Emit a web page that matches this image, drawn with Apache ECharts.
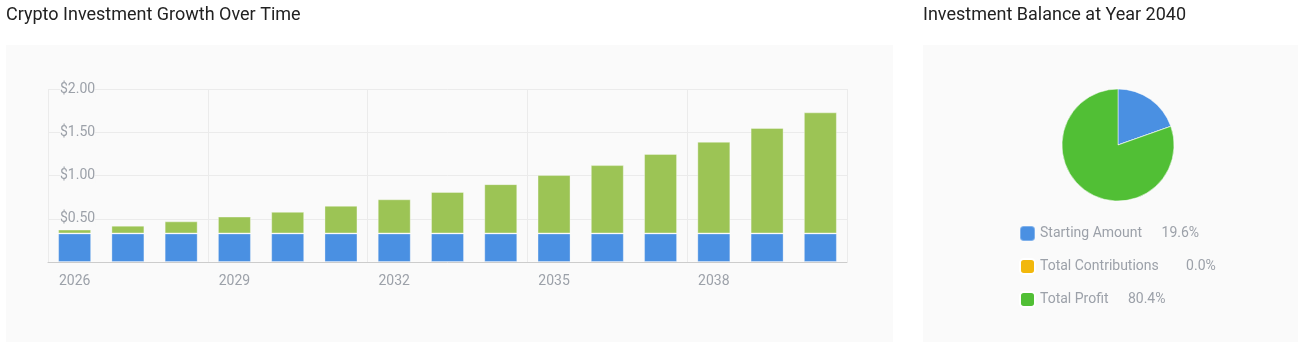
<!DOCTYPE html>
<html>
<head>
<meta charset="utf-8">
<script src="https://cdn.jsdelivr.net/npm/echarts@6/dist/echarts.min.js"></script>
<style>
html,body{margin:0;padding:0;background:#fff;}
#c{width:1298px;height:342px;}
</style>
</head>
<body>
<div id="c"></div>
<script>
var years = ['2026','2027','2028','2029','2030','2031','2032','2033','2034','2035','2036','2037','2038','2039','2040'];
var startingAmount = [0.33,0.33,0.33,0.33,0.33,0.33,0.33,0.33,0.33,0.33,0.33,0.33,0.33,0.33,0.33];
var totalProfit = [0.045,0.09,0.14,0.195,0.25,0.32,0.395,0.48,0.57,0.675,0.79,0.92,1.06,1.22,1.40];
var pieNames = ['Starting Amount','Total Contributions','Total Profit'];
var pieValues = [19.6, 0.0, 80.4];
var pieColors = ['#4a90e2','#f2b80c','#51bf35'];
var yTicks = {min:0, max:2, interval:0.5};

var chart = echarts.init(document.getElementById('c'));
var font = 'Roboto, "Noto Sans", sans-serif';
var gray = '#9ca1a9';
chart.setOption({
  animation:false,
  textStyle:{fontFamily:font},
  graphic:[
    {type:'rect', z:-10, shape:{x:6,y:45,width:887,height:300}, style:{fill:'#fafafa'}},
    {type:'rect', z:-10, shape:{x:923,y:45,width:380,height:300}, style:{fill:'#fafafa'}}
  ],
  title:[
    {text:'Crypto Investment Growth Over Time', left:6, top:6, padding:0,
     textStyle:{fontFamily:font, fontSize:18, fontWeight:'normal', color:'#222'}},
    {text:'Investment Balance at Year 2040', left:923, top:6, padding:0,
     textStyle:{fontFamily:font, fontSize:18, fontWeight:'normal', color:'#222'}}
  ],
  grid:{left:48, right:451, top:89, bottom:80, containLabel:false},
  xAxis:{
    type:'category', data:years,
    axisLine:{lineStyle:{color:'#cccccc'}},
    axisTick:{show:false},
    axisLabel:{interval:2, color:gray, fontSize:14, margin:12, fontFamily:font},
    splitLine:{show:true, interval:2, lineStyle:{color:'#ebebeb'}}
  },
  yAxis:{
    type:'value', min:yTicks.min, max:yTicks.max, interval:yTicks.interval,
    axisLine:{show:false}, axisTick:{show:false},
    axisLabel:{inside:true, margin:12, color:gray, fontSize:14, fontFamily:font,
      backgroundColor:'#fafafa', padding:[1,0],
      formatter:function(v){ return v===0 ? '' : '$' + v.toFixed(2); }},
    splitLine:{lineStyle:{color:'#ebebeb'}}
  },
  legend:{
    orient:'vertical', left:1019, top:225, padding:0, itemWidth:15, itemHeight:15, itemGap:16,
    icon:'roundRect', data:pieNames, selectedMode:false,
    textStyle:{color:gray, fontSize:14, fontFamily:font, lineHeight:15,
      rich:{n:{color:gray, fontSize:14, fontFamily:font, lineHeight:15},
            v:{color:gray, fontSize:14, fontFamily:font, lineHeight:15, width:57, align:'right'}}},
    formatter:function(name){
      var i = pieNames.indexOf(name);
      return '{n|' + name + '}{v|' + pieValues[i].toFixed(1) + '%}';
    }
  },
  series:[
    {type:'bar', name:'Starting Amount', stack:'a', data:startingAmount, barWidth:33,
     itemStyle:{color:'#4a90e2', borderColor:'rgba(255,255,255,0.3)', borderWidth:1}},
    {type:'bar', name:'Total Profit Bar', stack:'a', data:totalProfit, barWidth:33,
     itemStyle:{color:'#9cc455', borderColor:'rgba(255,255,255,0.35)', borderWidth:1}},
    {type:'pie', center:[1118,145], radius:56, startAngle:90, clockwise:true,
     label:{show:false}, labelLine:{show:false}, silent:true,
     itemStyle:{borderColor:'#ffffff', borderWidth:0.5},
     data:pieNames.map(function(n,i){return {name:n, value:pieValues[i], itemStyle:{color:pieColors[i]}};})}
  ]
});
</script>
</body>
</html>
